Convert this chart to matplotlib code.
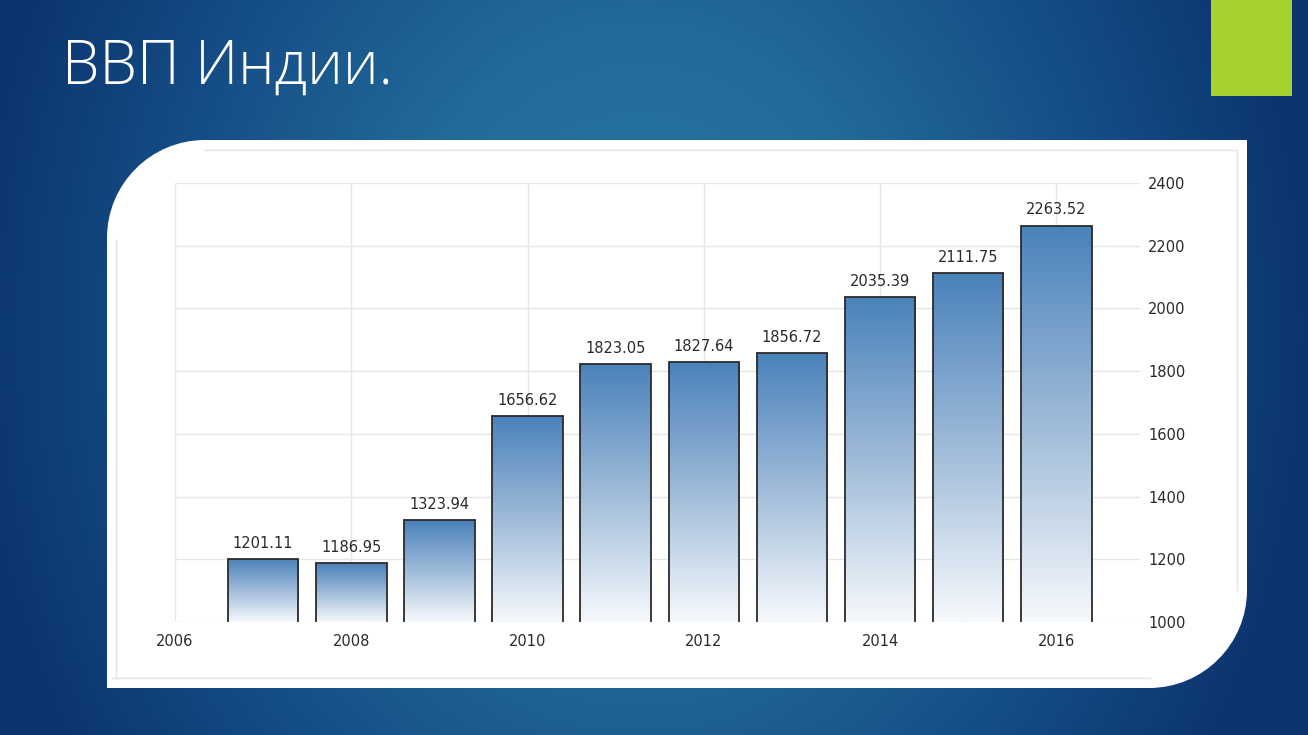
import numpy as np
import matplotlib.pyplot as plt
from matplotlib.path import Path
from matplotlib.patches import PathPatch, Rectangle
from matplotlib.colors import LinearSegmentedColormap

years = [2007, 2008, 2009, 2010, 2011, 2012, 2013, 2014, 2015, 2016]
gdp = [1201.11, 1186.95, 1323.94, 1656.62, 1823.05, 1827.64, 1856.72, 2035.39, 2111.75, 2263.52]
x_ticks = [2006, 2008, 2010, 2012, 2014, 2016]
y_ticks = [1000, 1200, 1400, 1600, 1800, 2000, 2200, 2400]
title = 'ВВП Индии.'

W, H = 1308, 735
fig = plt.figure(figsize=(W / 100, H / 100), dpi=100)

# slide background (pixel coordinates)
bg = fig.add_axes([0, 0, 1, 1])
bg.set_xlim(0, W)
bg.set_ylim(H, 0)
bg.axis('off')

yy, xx = np.mgrid[0:H, 0:W]
r = np.sqrt(((xx - 640) / 680) ** 2 + ((yy - 330) / 820) ** 2)
r = np.clip(r, 0, 1)
bg_cmap = LinearSegmentedColormap.from_list(
    'bg', [(0, '#2878a5'), (0.35, '#226c9b'), (0.7, '#154d86'), (1, '#0b336e')])
bg.imshow(r, cmap=bg_cmap, extent=(0, W, H, 0), aspect='auto', zorder=0)

# green accent block
bg.add_patch(Rectangle((1211, 0), 81, 96, facecolor='#a7d12f', edgecolor='none', zorder=1))

# white panel with rounded top-left and bottom-right corners
L, R, T, B, rad = 107, 1247, 140, 688, 98
k = 0.5523 * rad
verts = [(L, T + rad), (L, T + rad - k), (L + rad - k, T), (L + rad, T),
         (R, T), (R, B - rad), (R, B - rad + k), (R - rad + k, B), (R - rad, B),
         (L, B), (L, T + rad)]
codes = [Path.MOVETO, Path.CURVE4, Path.CURVE4, Path.CURVE4,
         Path.LINETO, Path.LINETO, Path.CURVE4, Path.CURVE4, Path.CURVE4,
         Path.LINETO, Path.CLOSEPOLY]
bg.add_patch(PathPatch(Path(verts, codes), facecolor='white', edgecolor='none', zorder=2))
# faint inner frame of the chart image
bg.plot([205, 1237], [150, 150], color='#e4e4e4', lw=1, zorder=3)
bg.plot([1237, 1237], [150, 590], color='#e4e4e4', lw=1, zorder=3)
bg.plot([112, 1150], [678, 678], color='#e4e4e4', lw=1, zorder=3)
bg.plot([116, 116], [240, 678], color='#e4e4e4', lw=1, zorder=3)

bg.text(62, 84, title, color='white', fontsize=43, fontweight='light',
        family=['Open Sans', 'DejaVu Sans'], ha='left', va='baseline', zorder=3)

# chart
ax = fig.add_axes([175 / W, 1 - 622 / H, 965 / W, (622 - 183) / H])
ax.patch.set_alpha(0)
for s in ax.spines.values():
    s.set_visible(False)
ax.set_xticks(x_ticks)
ax.set_yticks(y_ticks)
ax.grid(True, color='#e6e6e6', lw=1)
ax.set_axisbelow(True)
ax.yaxis.tick_right()
ax.tick_params(length=0, labelsize=10.5, labelcolor='#2a2a2a')
ax.tick_params(axis='x', pad=9)
ax.tick_params(axis='y', pad=6)

bar_cmap = LinearSegmentedColormap.from_list('bar', ['#4a82bb', '#9fbbd9', '#f6f9fc'])
grad = np.linspace(0, 1, 256).reshape(-1, 1)
bars = ax.bar(years, gdp, width=0.8, color='none', edgecolor='#2b2b2b', lw=1.3, zorder=3)
for b, v in zip(bars, gdp):
    x0 = b.get_x()
    im = ax.imshow(grad, cmap=bar_cmap, aspect='auto', zorder=2,
                   extent=(x0, x0 + b.get_width(), 1000, v), origin='upper')
    im.set_clip_path(b)
    ax.annotate(f'{v:.2f}', (x0 + b.get_width() / 2, v), xytext=(0, 6),
                textcoords='offset points', ha='center', va='bottom',
                fontsize=10.5, color='#2a2a2a')
ax.set_xlim(2006, 2016.95)
ax.set_ylim(1000, 2400)

fig.savefig('out.png', dpi=100)
